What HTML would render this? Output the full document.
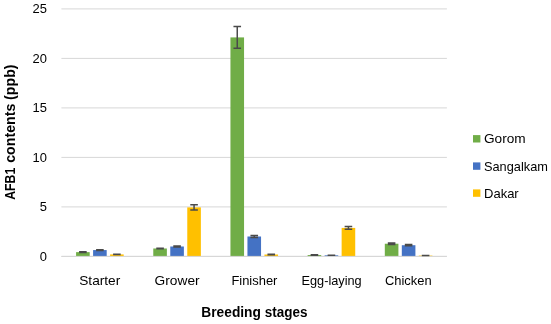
<!DOCTYPE html>
<html><head><meta charset="utf-8"><title>AFB1 contents by breeding stage</title>
<style>html,body{margin:0;padding:0;background:#fff}svg{display:block}text{font-family:"Liberation Sans",sans-serif;fill:#000}</style></head>
<body>
<svg width="551" height="324" viewBox="0 0 551 324">
<rect width="551" height="324" fill="#fff"/>
<line x1="61.4" x2="446.9" y1="256.40" y2="256.40" stroke="#D7D7D7" stroke-width="1"/>
<line x1="61.4" x2="446.9" y1="206.90" y2="206.90" stroke="#D7D7D7" stroke-width="1"/>
<line x1="61.4" x2="446.9" y1="157.40" y2="157.40" stroke="#D7D7D7" stroke-width="1"/>
<line x1="61.4" x2="446.9" y1="107.90" y2="107.90" stroke="#D7D7D7" stroke-width="1"/>
<line x1="61.4" x2="446.9" y1="58.40" y2="58.40" stroke="#D7D7D7" stroke-width="1"/>
<line x1="61.4" x2="446.9" y1="8.90" y2="8.90" stroke="#D7D7D7" stroke-width="1"/>
<rect x="76.09" y="252.14" width="13.6" height="4.26" fill="#70AD47"/>
<rect x="93.09" y="250.06" width="13.6" height="6.34" fill="#4472C4"/>
<rect x="110.09" y="254.42" width="13.6" height="1.98" fill="#FFC000"/>
<rect x="153.27" y="248.48" width="13.6" height="7.92" fill="#70AD47"/>
<rect x="170.27" y="246.50" width="13.6" height="9.90" fill="#4472C4"/>
<rect x="187.27" y="207.39" width="13.6" height="49.01" fill="#FFC000"/>
<rect x="230.45" y="37.41" width="13.6" height="218.99" fill="#70AD47"/>
<rect x="247.45" y="236.50" width="13.6" height="19.90" fill="#4472C4"/>
<rect x="264.45" y="254.52" width="13.6" height="1.88" fill="#FFC000"/>
<rect x="307.63" y="255.01" width="13.6" height="1.39" fill="#70AD47"/>
<rect x="324.63" y="255.31" width="13.6" height="1.09" fill="#4472C4"/>
<rect x="341.63" y="227.89" width="13.6" height="28.51" fill="#FFC000"/>
<rect x="384.81" y="243.73" width="13.6" height="12.67" fill="#70AD47"/>
<rect x="401.81" y="245.21" width="13.6" height="11.19" fill="#4472C4"/>
<rect x="418.81" y="255.61" width="13.6" height="0.79" fill="#FFC000"/>
<line x1="61.4" x2="446.9" y1="256.4" y2="256.4" stroke="#D7D7D7" stroke-width="1"/>
<path d="M82.89 251.80V252.49M79.09 251.80H86.69M79.09 252.49H86.69" stroke="#4a4a4a" stroke-width="1.5" fill="none"/>
<path d="M99.89 249.72V250.41M96.09 249.72H103.69M96.09 250.41H103.69" stroke="#4a4a4a" stroke-width="1.5" fill="none"/>
<path d="M116.89 254.22V254.62M113.09 254.22H120.69M113.09 254.62H120.69" stroke="#4a4a4a" stroke-width="1.5" fill="none"/>
<path d="M160.07 248.13V248.83M156.27 248.13H163.87M156.27 248.83H163.87" stroke="#4a4a4a" stroke-width="1.5" fill="none"/>
<path d="M177.07 246.10V246.90M173.27 246.10H180.87M173.27 246.90H180.87" stroke="#4a4a4a" stroke-width="1.5" fill="none"/>
<path d="M194.07 204.82V209.97M190.27 204.82H197.87M190.27 209.97H197.87" stroke="#4a4a4a" stroke-width="1.5" fill="none"/>
<path d="M237.25 26.62V48.20M233.45 26.62H241.05M233.45 48.20H241.05" stroke="#4a4a4a" stroke-width="1.5" fill="none"/>
<path d="M254.25 235.51V237.49M250.45 235.51H258.05M250.45 237.49H258.05" stroke="#4a4a4a" stroke-width="1.5" fill="none"/>
<path d="M271.25 254.37V254.67M267.45 254.37H275.05M267.45 254.67H275.05" stroke="#4a4a4a" stroke-width="1.5" fill="none"/>
<path d="M314.43 254.87V255.16M310.63 254.87H318.23M310.63 255.16H318.23" stroke="#4a4a4a" stroke-width="1.5" fill="none"/>
<path d="M331.43 255.31V255.31M327.63 255.31H335.23M327.63 255.31H335.23" stroke="#4a4a4a" stroke-width="1.5" fill="none"/>
<path d="M348.43 226.60V229.17M344.63 226.60H352.23M344.63 229.17H352.23" stroke="#4a4a4a" stroke-width="1.5" fill="none"/>
<path d="M391.61 243.03V244.42M387.81 243.03H395.41M387.81 244.42H395.41" stroke="#4a4a4a" stroke-width="1.5" fill="none"/>
<path d="M408.61 244.62V245.81M404.81 244.62H412.41M404.81 245.81H412.41" stroke="#4a4a4a" stroke-width="1.5" fill="none"/>
<path d="M425.61 255.61V255.61M421.81 255.61H429.41M421.81 255.61H429.41" stroke="#4a4a4a" stroke-width="1.5" fill="none"/>
<text x="39.7" y="260.50" font-size="12.8" textLength="7.2" lengthAdjust="spacingAndGlyphs">0</text>
<text x="39.7" y="211.00" font-size="12.8" textLength="7.2" lengthAdjust="spacingAndGlyphs">5</text>
<text x="32.5" y="161.50" font-size="12.8" textLength="14.4" lengthAdjust="spacingAndGlyphs">10</text>
<text x="32.5" y="112.00" font-size="12.8" textLength="14.4" lengthAdjust="spacingAndGlyphs">15</text>
<text x="32.5" y="62.50" font-size="12.8" textLength="14.4" lengthAdjust="spacingAndGlyphs">20</text>
<text x="32.5" y="13.00" font-size="12.8" textLength="14.4" lengthAdjust="spacingAndGlyphs">25</text>
<text x="79.2" y="284.5" font-size="12.8" textLength="41.1" lengthAdjust="spacingAndGlyphs">Starter</text>
<text x="154.6" y="284.5" font-size="12.8" textLength="45.0" lengthAdjust="spacingAndGlyphs">Grower</text>
<text x="231.4" y="284.5" font-size="12.8" textLength="46.0" lengthAdjust="spacingAndGlyphs">Finisher</text>
<text x="301.5" y="284.5" font-size="12.8" textLength="60.2" lengthAdjust="spacingAndGlyphs">Egg-laying</text>
<text x="384.9" y="284.5" font-size="12.8" textLength="46.7" lengthAdjust="spacingAndGlyphs">Chicken</text>
<text y="316.6" font-size="13.8" font-weight="bold"><tspan x="201.3" textLength="59.6" lengthAdjust="spacingAndGlyphs">Breeding</tspan> <tspan x="264.7" textLength="42.7" lengthAdjust="spacingAndGlyphs">stages</tspan></text>
<text transform="translate(14.9 200.5) rotate(-90)" y="0" font-size="13.8" font-weight="bold"><tspan x="0.7" textLength="32.2" lengthAdjust="spacingAndGlyphs">AFB1</tspan> <tspan x="37.7" textLength="59.2" lengthAdjust="spacingAndGlyphs">contents</tspan> <tspan x="100.5" textLength="35.6" lengthAdjust="spacingAndGlyphs">(ppb)</tspan></text>
<rect x="473.0" y="135.1" width="7.4" height="7.4" fill="#70AD47"/>
<text x="484" y="143.2" font-size="12.8" textLength="41.7" lengthAdjust="spacingAndGlyphs">Gorom</text>
<rect x="473.0" y="162.4" width="7.4" height="7.4" fill="#4472C4"/>
<text x="484" y="170.6" font-size="12.8" textLength="63.9" lengthAdjust="spacingAndGlyphs">Sangalkam</text>
<rect x="473.0" y="189.4" width="7.4" height="7.4" fill="#FFC000"/>
<text x="484" y="197.7" font-size="12.8" textLength="34.7" lengthAdjust="spacingAndGlyphs">Dakar</text>
</svg>
</body></html>
